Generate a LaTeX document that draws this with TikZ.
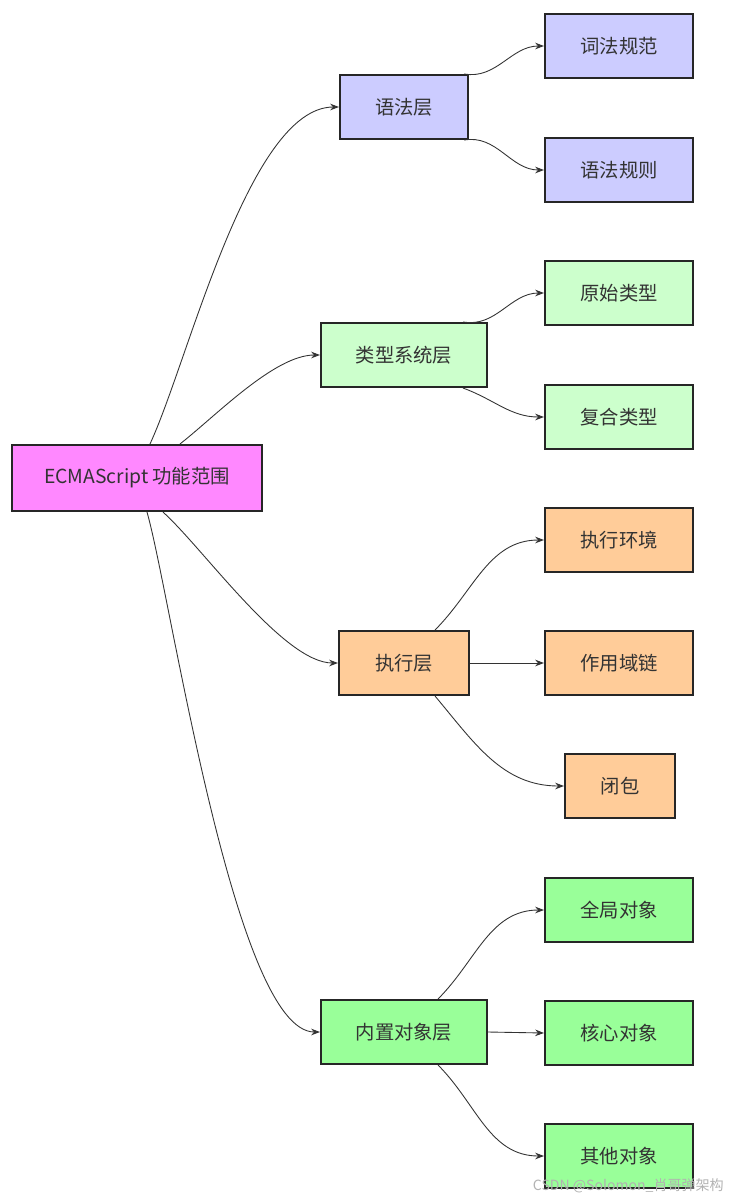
\documentclass[tikz,border=0pt]{standalone}
\usepackage{fontspec}
\setmainfont{Noto Sans CJK SC}
\usetikzlibrary{arrows.meta}
\definecolor{rootc}{HTML}{FF88FF}
\definecolor{sync}{HTML}{CCCCFF}
\definecolor{typc}{HTML}{CCFFCC}
\definecolor{exec}{HTML}{FFCC99}
\definecolor{objc}{HTML}{99FF99}
\begin{document}
\begin{tikzpicture}[x=0.02cm, y=-0.02cm,
    box/.style={draw=black!85, line width=1.2pt, minimum height=1.28cm, inner sep=0pt, font=\fontsize{11}{13}\selectfont, text=black!80},
    leaf/.style={box, minimum width=2.96cm},
    link/.style={draw=black!80, line width=0.5pt, -{Stealth[length=5pt]}}
]
\useasboundingbox (0,0) rectangle (733,1201);

\node [box, fill=rootc, minimum width=5cm, minimum height=1.32cm, font=\fontsize{11}{13}\selectfont] (root) at (137,478) {ECMAScript 功能范围};

\node [box, fill=sync, minimum width=2.56cm] (syntax) at (404,107) {语法层};
\node [leaf, fill=sync] (lexical) at (619,46) {词法规范};
\node [leaf, fill=sync] (grammar) at (619,170) {语法规则};

\node [box, fill=typc, minimum width=3.32cm] (types) at (404,355) {类型系统层};
\node [leaf, fill=typc] (primitive) at (619,293) {原始类型};
\node [leaf, fill=typc] (composite) at (619,417) {复合类型};

\node [box, fill=exec, minimum width=2.6cm] (execution) at (404,663) {执行层};
\node [leaf, fill=exec] (context) at (619,540) {执行环境};
\node [leaf, fill=exec] (scope) at (619,663) {作用域链};
\node [box, fill=exec, minimum width=2.2cm] (closure) at (620,786) {闭包};

\node [box, fill=objc, minimum width=3.32cm] (builtin) at (404,1032) {内置对象层};
\node [leaf, fill=objc] (global) at (619,910) {全局对象};
\node [leaf, fill=objc] (core) at (619,1033) {核心对象};
\node [leaf, fill=objc] (other) at (619,1156) {其他对象};

\node [text=gray!60, font=\fontsize{8}{10}\selectfont, anchor=south east] (mark) at (730,1199) {CSDN @Solomon\_肖哥弹架构};

% root to layers
\draw [link] (root.north) ++(13,0) to[out=65, in=180, looseness=0.6] (syntax.west);
\draw [link] (root.north) ++(43,0) to[out=38, in=180, looseness=0.7] (types.west);
\draw [link] (root.south) ++(26,0) to[out=-42, in=180, looseness=0.6] (execution.west);
\draw [link] (root.south) ++(10,0) to[out=-74, in=180, looseness=0.4] (builtin.west);

% layers to leaves
\draw [link] (syntax.north east) ++(-5,0) to[out=-10, in=180] (lexical.west);
\draw [link] (syntax.south east) ++(-5,0) to[out=10, in=180] (grammar.west);
\draw [link] (types.north east) ++(-25,0) to[out=-10, in=180] (primitive.west);
\draw [link] (types.south east) ++(-25,0) to[out=-20, in=180] (composite.west);
\draw [link] (execution.north east) ++(-35,0) to[out=45, in=180] (context.west);
\draw [link] (execution.east) to (scope.west);
\draw [link] (execution.south east) ++(-35,0) to[out=-50, in=180] (closure.west);
\draw [link] (builtin.north east) ++(-50,0) to[out=45, in=180] (global.west);
\draw [link] (builtin.east) to (core.west);
\draw [link] (builtin.south east) ++(-50,0) to[out=-45, in=180] (other.west);
\end{tikzpicture}
\end{document}
